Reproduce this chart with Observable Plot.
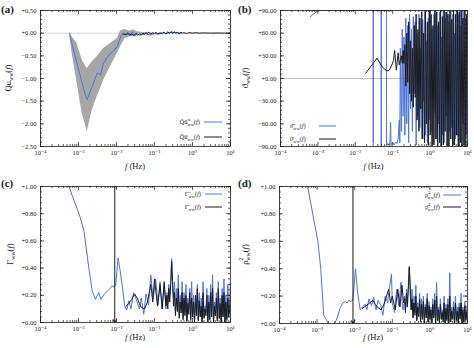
<!DOCTYPE html>
<html><head><meta charset="utf-8">
<script src="https://cdn.jsdelivr.net/npm/d3@7"></script>
<script src="https://cdn.jsdelivr.net/npm/@observablehq/plot@0.6"></script>
<style>
body{margin:0;background:#fff;}
#wrap{position:relative;width:474px;height:348px;overflow:hidden;background:#fff;}
#wrap svg{position:absolute;}
</style></head><body><div id="wrap"></div>
<script>
// ---------- shared axis data ----------
const xTicks = [1e-4, 1e-3, 1e-2, 1e-1, 1, 10];
const xTickLabels = ["10⁻⁴", "10⁻³", "10⁻²", "10⁻¹", "10⁰", "10¹"];
const yTicksA = [0.5, 0, -0.5, -1, -1.5, -2, -2.5];
const yTicksB = [90, 60, 30, 0, -30, -60, -90];
const yTicksCD = [1, 0.8, 0.6, 0.4, 0.2, 0];

// dense high-frequency grid (Hz)
const fDense = [0.200,0.212,0.224,0.238,0.252,0.267,0.283,0.300,0.317,0.336,
0.356,0.377,0.400,0.423,0.448,0.475,0.503,0.533,0.565,0.599,
0.634,0.672,0.712,0.754,0.799,0.846,0.897,0.950,1.006,1.066,
1.129,1.196,1.267,1.342,1.422,1.506,1.596,1.690,1.791,1.897,
2.010,2.129,2.255,2.389,2.531,2.681,2.840,3.009,3.187,3.376,
3.577,3.789,4.014,4.252,4.504,4.772,5.055,5.355,5.672,6.009,
6.365,6.743,7.143,7.567,8.016,8.492,8.996,9.530,10.0];

// ---------- panel (a) ----------
const fA_band = [5.8e-4,6.8e-4,9.2e-4,1.25e-3,1.7e-3,2.3e-3,3.1e-3,4.6e-3,6.9e-3,1.05e-2,1.27e-2,1.7e-2,2.2e-2,2.8e-2,3.5e-2,4.3e-2,6e-2,1e-1];
const quA_bandHi = [0.0,-0.08,-0.23,-0.6,-0.78,-0.63,-0.52,-0.34,-0.23,-0.12,0.05,0.08,0.04,0.07,0.03,0.02,0.01,0.0];
const quA_bandLo = [0.0,-0.45,-1.1,-1.77,-2.17,-1.7,-1.4,-1.04,-0.74,-0.45,-0.3,-0.12,-0.08,-0.07,-0.05,-0.03,-0.02,-0.01];
const fA_blue = [5.8e-4,7e-4,9e-4,1.2e-3,1.5e-3,1.7e-3,2.0e-3,2.5e-3,3.1e-3,3.5e-3,3.8e-3,4.5e-3,5.5e-3,6.9e-3,8.5e-3,1.05e-2,1.27e-2,1.5e-2,1.7e-2,2e-2,2.3e-2,2.6e-2,3e-2,3.5e-2,4e-2,5e-2,6e-2,8e-2,0.1,0.13,0.17,0.2,0.3,0.5];
const quA_blue = [0.0,-0.3,-0.65,-1.05,-1.35,-1.47,-1.3,-1.1,-0.88,-0.9,-0.93,-0.67,-0.55,-0.45,-0.38,-0.3,-0.08,0.0,-0.03,0.02,-0.05,0.03,-0.06,-0.02,-0.05,-0.03,-0.02,-0.04,-0.01,-0.02,0.01,-0.01,0.02,0.0];
const fA_black = [0.015,0.018,0.02,0.022,0.025,0.028,0.03,0.033,0.036,0.04,0.045,0.05,0.055,0.06,0.065,0.07,0.08,0.09,0.1,0.11,0.12,0.14,0.16,0.18,0.2,0.22,0.25,0.28,0.3,0.33,0.36,0.4,0.45,0.5,0.55,0.6,0.7,0.8,1.0,1.2,1.5,2,3,5,7,10];
const quA_black = [-0.02,-0.03,-0.01,-0.04,-0.02,-0.05,-0.03,-0.01,-0.04,-0.02,-0.03,0.0,-0.02,0.01,-0.01,0.02,-0.02,0.01,-0.01,0.02,-0.02,0.01,-0.01,0.02,-0.02,0.03,0.0,0.04,-0.01,0.03,0.0,0.02,-0.01,0.02,0.0,0.01,-0.01,0.01,0.0,0.01,0.0,0.005,0.0,0.003,0.0,0.0];

// ---------- panel (b) ----------
const fB_blue = [6.3e-4,7.5e-4,9e-4,1.2e-3,1.4e-3,5e-3,1e-2,2e-2,0.0300,0.0302,0.0304,0.0490,0.0493,0.0496,0.068,0.0685,0.075,0.08,0.085,0.088,0.09,0.1,0.11,0.12,0.13,0.14,0.15,0.155,0.16,0.17,0.18,0.19];
const thB_blue = [82,85,88,90,90,90,90,90,90,-86,90,90,-90,90,90,-88,-86,-88,-84,-58,-87,-85,-88,-84,-86,-80,-55,-85,40,-70,65,-50];
const thB_blueDense = [55,-75,80,-60,70,-85,85,-40,65,-70,82,-20,75,-88,60,-50,85,-65,40,-80,78,-30,88,-75,50,-85,80,-55,90,-70,65,-88,85,-45,90,-80,70,-60,88,-90,55,-75,90,-85,80,-50,88,-90,75,-70,90,-65,85,-88,60,-80,90,-75,85,-90,70,-85,90,-60,88,-90,80,-75,90];
const fB_black = [0.019,0.03,0.038,0.053,0.07,0.081,0.095,0.105,0.113,0.125,0.14,0.15,0.16,0.17,0.18,0.19];
const thB_black = [7,20,27,15,10,11,18,24,37,11,34,18,24,30,20,37];
const thB_blackDense = [20,45,-10,60,-5,75,-20,50,-30,40,-38,70,-25,85,-55,65,-70,80,-40,88,-80,60,-85,90,-60,75,-88,90,-75,85,-90,70,-88,90,-80,88,-90,75,-85,90,-90,82,-88,90,-70,88,-90,85,-90,90,-80,78,-90,90,-88,85,-75,90,-90,88,-85,90,-90,80,-88,90,-90,85,-80];

// ---------- panel (c) ----------
const fC_blue = [5.6e-4,1.12e-3,1.4e-3,1.87e-3,2.3e-3,2.8e-3,3.4e-3,3.9e-3,4.8e-3,6.3e-3,7.7e-3,8.6e-3,9.5e-3,1.1e-2,1.25e-2,1.43e-2,1.65e-2,1.85e-2,2.1e-2,2.4e-2,2.8e-2,3.4e-2,4e-2,4.5e-2,5.2e-2,6e-2,7e-2,8e-2,9.2e-2,0.107,0.124,0.14,0.157,0.18];
const gC_blue = [1.0,0.77,0.67,0.40,0.23,0.17,0.22,0.17,0.21,0.24,0.27,0.26,0.27,0.475,0.38,0.26,0.12,0.09,0.16,0.10,0.22,0.16,0.10,0.18,0.06,0.21,0.13,0.35,0.17,0.32,0.13,0.30,0.10,0.28];
const gC_blueDense = [0.10,0.22,0.15,0.28,0.20,0.30,0.47,0.25,0.18,0.30,0.08,0.25,0.12,0.35,0.05,0.20,0.10,0.30,0.04,0.22,0.08,0.28,0.02,0.18,0.10,0.25,0.03,0.30,0.06,0.20,0.01,0.15,0.08,0.28,0.02,0.22,0.05,0.18,0.00,0.30,0.04,0.12,0.07,0.25,0.01,0.20,0.03,0.28,0.05,0.35,0.00,0.15,0.06,0.22,0.02,0.30,0.04,0.18,0.01,0.25,0.05,0.32,0.00,0.20,0.03,0.28,0.06,0.15,0.33];
const fC_black = [0.018,0.021,0.025,0.03,0.035,0.04,0.045,0.055,0.065,0.08,0.09,0.1,0.12,0.14,0.16,0.18];
const gC_black = [0.12,0.14,0.17,0.21,0.18,0.14,0.11,0.10,0.15,0.28,0.15,0.32,0.12,0.28,0.10,0.30];
const gC_blackDense = [0.12,0.20,0.10,0.25,0.15,0.28,0.45,0.30,0.12,0.22,0.05,0.18,0.08,0.25,0.03,0.15,0.07,0.22,0.02,0.18,0.05,0.20,0.01,0.14,0.06,0.22,0.02,0.18,0.04,0.15,0.00,0.20,0.05,0.25,0.01,0.16,0.04,0.12,0.00,0.22,0.03,0.10,0.05,0.20,0.00,0.15,0.02,0.22,0.04,0.25,0.00,0.12,0.05,0.18,0.01,0.25,0.03,0.14,0.00,0.20,0.04,0.22,0.00,0.15,0.02,0.18,0.04,0.10,0.20];

// ---------- panel (d) ----------
const fD_blue = [5.6e-4,1.05e-3,1.25e-3,1.5e-3,2e-3,2.7e-3,3.2e-3,4.1e-3,4.8e-3,5.5e-3,6.3e-3,7e-3,7.8e-3,9e-3,1.05e-2,1.2e-2,1.4e-2,1.6e-2,1.9e-2,2.1e-2,2.4e-2,2.8e-2,3.2e-2,3.7e-2,4.2e-2,5e-2,5.6e-2,6.5e-2,7.5e-2,8.5e-2,9.5e-2,0.1,0.115,0.13,0.15,0.17,0.19];
const rD_blue = [1.0,0.6,0.4,0.06,0.0,0.0,0.02,0.11,0.15,0.16,0.15,0.17,0.16,0.17,0.40,0.22,0.10,0.12,0.14,0.10,0.18,0.13,0.19,0.10,0.17,0.13,0.06,0.20,0.15,0.27,0.36,0.15,0.08,0.25,0.13,0.30,0.10];
const rD_blueDense = [0.10,0.20,0.12,0.25,0.15,0.28,0.42,0.22,0.10,0.25,0.05,0.20,0.08,0.28,0.03,0.15,0.06,0.22,0.02,0.18,0.05,0.20,0.01,0.14,0.07,0.22,0.02,0.16,0.04,0.12,0.01,0.18,0.05,0.22,0.00,0.30,0.03,0.12,0.01,0.18,0.04,0.10,0.02,0.20,0.00,0.14,0.03,0.18,0.01,0.37,0.02,0.12,0.04,0.16,0.00,0.20,0.03,0.12,0.01,0.15,0.04,0.22,0.00,0.12,0.02,0.16,0.03,0.08,0.15];
const fD_black = [0.016,0.02,0.025,0.03,0.035,0.04,0.05,0.06,0.07,0.08,0.09,0.1,0.12,0.14,0.16,0.18];
const rD_black = [0.11,0.13,0.15,0.17,0.14,0.12,0.10,0.14,0.20,0.25,0.15,0.20,0.10,0.25,0.12,0.28];
const rD_blackDense = [0.15,0.18,0.08,0.22,0.12,0.25,0.41,0.28,0.10,0.18,0.04,0.15,0.06,0.20,0.02,0.12,0.05,0.18,0.01,0.14,0.03,0.16,0.00,0.12,0.04,0.18,0.01,0.13,0.03,0.10,0.00,0.14,0.04,0.17,0.00,0.20,0.02,0.10,0.00,0.14,0.03,0.08,0.01,0.15,0.00,0.11,0.02,0.14,0.00,0.20,0.01,0.09,0.03,0.12,0.00,0.15,0.02,0.09,0.00,0.12,0.03,0.15,0.00,0.10,0.01,0.13,0.02,0.07,0.12];

// arrow marking the cut-off frequency in (c) and (d)
const fCut = [0.009];

// ---------- helpers ----------
const FONT = "'Liberation Serif','DejaVu Serif',serif";
const BLUE = "#4f72dc";
const INK = "#1a1a1a";
const W = 237, H = 174;
const zip = (fs, vs) => fs.slice(0, Math.min(fs.length, vs.length)).map((f, i) => ({f, v: vs[i]}));
const withDense = (fs, vs, dense) => zip(fs, vs).concat(zip(fDense, dense));
const xMinor = xTicks.slice(0, -1).flatMap(d => [2,3,4,5,6,7,8,9].map(k => k * d));
const signFmt = d => (d >= 0 ? "+" : "−") + Math.abs(d).toFixed(2);

function rich(sel, parts, size) {
  let shift = 0;
  for (const p of parts) {
    const ts = sel.append("tspan").text(p.t);
    const target = p.k === "sub" ? 0.32 * size : p.k === "sup" ? -0.42 * size : 0;
    if (target - shift !== 0) ts.attr("dy", target - shift);
    shift = target;
    if (p.k) ts.attr("font-size", size * 0.68);
    if (p.i) ts.attr("font-style", "italic");
    if (p.dx) ts.attr("dx", p.dx);
  }
}

function panel(cfg) {
  const fw = W - cfg.mL - cfg.mR, fh = H - cfg.mT - cfg.mB;
  const tk = {stroke: INK, strokeWidth: 0.7};
  const svg = Plot.plot({
    width: W, height: H,
    marginLeft: cfg.mL, marginRight: cfg.mR, marginTop: cfg.mT, marginBottom: cfg.mB,
    x: {type: "log", domain: [1e-4, 10], axis: null},
    y: {domain: cfg.yDomain, axis: null},
    style: {fontFamily: FONT, fontSize: "6.5px", color: INK, background: "transparent"},
    marks: [
      ...cfg.marks,
      Plot.frame({stroke: INK, strokeWidth: 0.8}),
      Plot.tickX(xTicks, {x: d => d, insetTop: fh - 4, ...tk}),
      Plot.tickX(xTicks, {x: d => d, insetBottom: fh - 4, ...tk}),
      Plot.tickX(xMinor, {x: d => d, insetTop: fh - 2, ...tk}),
      Plot.tickX(xMinor, {x: d => d, insetBottom: fh - 2, ...tk}),
      Plot.tickY(cfg.yTicks, {y: d => d, insetRight: fw - 4, ...tk}),
      Plot.tickY(cfg.yTicks, {y: d => d, insetLeft: fw - 4, ...tk}),
      Plot.tickY(cfg.yMinor, {y: d => d, insetRight: fw - 2, ...tk}),
      Plot.tickY(cfg.yMinor, {y: d => d, insetLeft: fw - 2, ...tk}),
      Plot.axisX(xTicks, {tickSize: 0, tickPadding: 4, tickFormat: d => xTickLabels[xTicks.indexOf(d)], label: null}),
      Plot.axisY(cfg.yTicks, {tickSize: 0, tickPadding: 4, tickFormat: signFmt, label: null})
    ]
  });
  svg.style.left = cfg.left + "px";
  svg.style.top = cfg.top + "px";
  const g = d3.select(svg);
  g.append("text").attr("x", 1).attr("y", 13).attr("text-anchor", "start").attr("font-family", FONT)
    .attr("font-weight", "bold").attr("font-size", 11).attr("fill", INK).text(cfg.tag);
  const yl = g.append("text")
    .attr("transform", `translate(${cfg.ylX},${cfg.mT + fh / 2}) rotate(-90)`)
    .attr("text-anchor", "middle").attr("dominant-baseline", "middle")
    .attr("font-family", FONT).attr("font-size", 8.5).attr("fill", INK);
  rich(yl, cfg.ylabel, 8.5);
  const xl = g.append("text").attr("x", cfg.mL + fw / 2).attr("y", cfg.xlY)
    .attr("text-anchor", "middle").attr("font-family", FONT).attr("font-size", 8.5).attr("fill", INK);
  rich(xl, [{t: "f", i: true}, {t: " (Hz)"}], 8.5);
  cfg.legend.forEach((e, i) => {
    const y = cfg.leg.y[i];
    const t = g.append("text").attr("x", cfg.leg.tx).attr("y", y + 2)
      .attr("text-anchor", cfg.leg.anchor).attr("font-family", FONT)
      .attr("font-size", 6.5).attr("fill", INK);
    rich(t, e.label, 6.5);
    g.append("line").attr("x1", cfg.leg.l1).attr("x2", cfg.leg.l2).attr("y1", y).attr("y2", y)
      .attr("stroke", e.color).attr("stroke-width", 1);
  });
  document.getElementById("wrap").appendChild(svg);
}

const lab = (sym, bar, sup) => {
  const out = [{t: sym + bar}];
  if (sup) out.push({t: sup, k: "sup"});
  out.push({t: "ww", k: "sub", dx: sup ? -3 : 0});
  out.push({t: "("}, {t: "f", i: true}, {t: ")"});
  return out;
};

// (a)
const bandA = fA_band.map((f, i) => ({f, lo: quA_bandLo[i], hi: quA_bandHi[i]}));
panel({
  tag: "(a)", left: 0, top: 0, mL: 40, mR: 7, mT: 10, mB: 28,
  yDomain: [-2.5, 0.5], yTicks: yTicksA, yMinor: d3.range(-2.5, 0.5001, 0.1),
  ylX: 9, xlY: 169,
  ylabel: [{t: "Qu"}, {t: "ww", k: "sub"}, {t: "("}, {t: "f", i: true}, {t: ")"}],
  marks: [
    Plot.ruleY([0], {stroke: "#c8c8c8", strokeWidth: 0.8}),
    Plot.areaY(bandA, {x: "f", y1: "lo", y2: "hi", fill: "#a6a6a6"}),
    Plot.line(zip(fA_blue, quA_blue), {x: "f", y: "v", stroke: BLUE, strokeWidth: 1}),
    Plot.line(zip(fA_black, quA_black), {x: "f", y: "v", stroke: INK, strokeWidth: 1})
  ],
  leg: {y: [122, 137], tx: 200, anchor: "end", l1: 204, l2: 222},
  legend: [
    {label: [{t: "Q\u0303u\u0303"}, {t: "st", k: "sup"}, {t: "ww", k: "sub", dx: -3}, {t: "("}, {t: "f", i: true}, {t: ")"}], color: BLUE},
    {label: [{t: "Q\u0305u\u0305"}, {t: "ww", k: "sub"}, {t: "("}, {t: "f", i: true}, {t: ")"}], color: INK}
  ]
});

// (b)
panel({
  tag: "(b)", left: 237, top: 0, mL: 43, mR: 7, mT: 10, mB: 28,
  yDomain: [-90, 90], yTicks: yTicksB, yMinor: d3.range(-90, 90.001, 6),
  ylX: 9, xlY: 169,
  ylabel: [{t: "ϑ"}, {t: "ww", k: "sub"}, {t: "("}, {t: "f", i: true}, {t: ")"}],
  marks: [
    Plot.ruleY([0], {stroke: "#b0b0b0", strokeWidth: 0.8}),
    Plot.line(withDense(fB_blue, thB_blue, thB_blueDense), {x: "f", y: "v", stroke: BLUE, strokeWidth: 1, clip: true}),
    Plot.line(withDense(fB_black, thB_black, thB_blackDense), {x: "f", y: "v", stroke: INK, strokeWidth: 1, clip: true})
  ],
  leg: {y: [126, 139], tx: 53, anchor: "start", l1: 82, l2: 99},
  legend: [
    {label: lab("ϑ", "\u0303"), color: BLUE},
    {label: lab("ϑ", "\u0304"), color: INK}
  ]
});

// (c)
panel({
  tag: "(c)", left: 0, top: 174, mL: 40, mR: 7, mT: 12, mB: 26,
  yDomain: [0, 1], yTicks: yTicksCD, yMinor: d3.range(0, 1.0001, 0.04),
  ylX: 11, xlY: 166,
  ylabel: [{t: "Γ"}, {t: "ww", k: "sub"}, {t: "("}, {t: "f", i: true}, {t: ")"}],
  marks: [
    Plot.line(withDense(fC_blue, gC_blue, gC_blueDense), {x: "f", y: "v", stroke: BLUE, strokeWidth: 1, clip: true}),
    Plot.line(withDense(fC_black, gC_black, gC_blackDense), {x: "f", y: "v", stroke: INK, strokeWidth: 1, clip: true}),
    Plot.arrow(fCut, {x1: d => d, x2: d => d, y1: () => 1, y2: () => 0, stroke: INK, strokeWidth: 1, headLength: 5})
  ],
  leg: {y: [20, 33], tx: 201, anchor: "end", l1: 205, l2: 222},
  legend: [
    {label: lab("Γ", "\u0303"), color: BLUE},
    {label: lab("Γ", "\u0304"), color: INK}
  ]
});

// (d)
panel({
  tag: "(d)", left: 237, top: 174, mL: 42, mR: 7, mT: 12, mB: 25,
  yDomain: [0, 1], yTicks: yTicksCD, yMinor: d3.range(0, 1.0001, 0.04),
  ylX: 9, xlY: 166,
  ylabel: [{t: "ρ"}, {t: "2", k: "sup"}, {t: "ww", k: "sub", dx: -3}, {t: "("}, {t: "f", i: true}, {t: ")"}],
  marks: [
    Plot.line(withDense(fD_blue, rD_blue, rD_blueDense), {x: "f", y: "v", stroke: BLUE, strokeWidth: 1, clip: true}),
    Plot.line(withDense(fD_black, rD_black, rD_blackDense), {x: "f", y: "v", stroke: INK, strokeWidth: 1, clip: true}),
    Plot.arrow(fCut, {x1: d => d, x2: d => d, y1: () => 1, y2: () => 0, stroke: INK, strokeWidth: 1, headLength: 5})
  ],
  leg: {y: [21, 33], tx: 203, anchor: "end", l1: 206, l2: 224},
  legend: [
    {label: lab("ρ", "\u0303", "2"), color: BLUE},
    {label: lab("ρ", "\u0304", "2"), color: INK}
  ]
});
</script></body></html>
